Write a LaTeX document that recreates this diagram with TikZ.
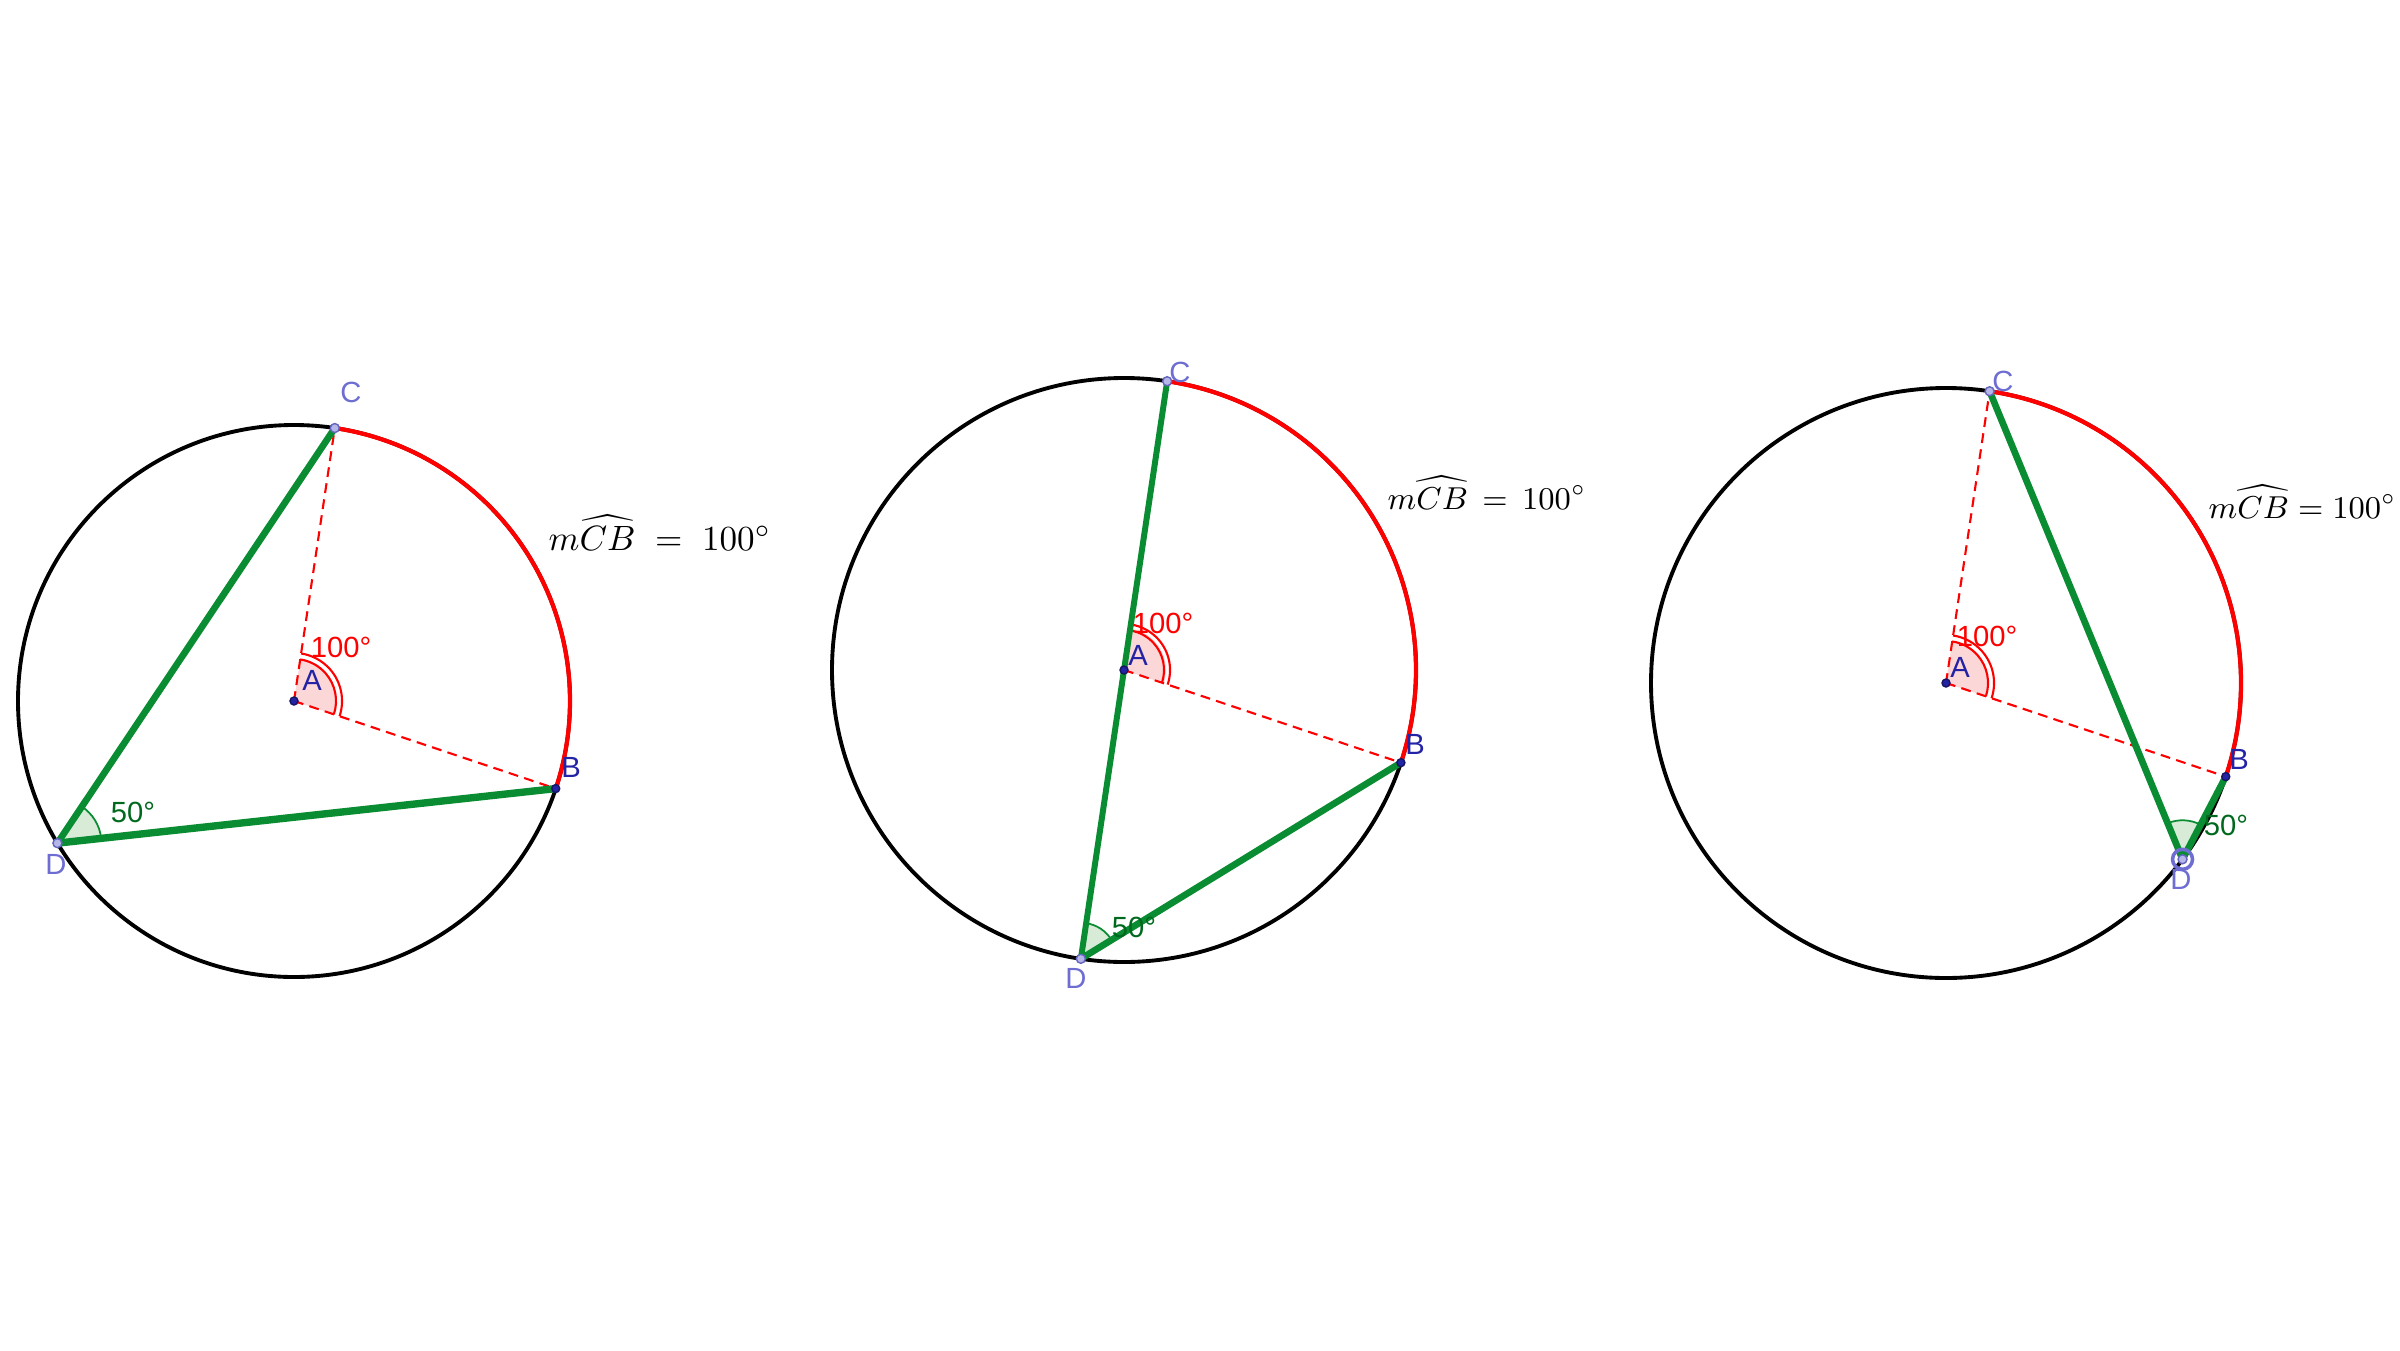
\documentclass[tikz,border=0pt]{standalone}
\usepackage{fontspec}
\setsansfont{Liberation Sans}
\usetikzlibrary{calc,angles}
\definecolor{ggreen}{RGB}{10,140,50}
\definecolor{gtext}{RGB}{0,105,30}
\definecolor{gred}{RGB}{255,0,0}
\definecolor{ptlight}{RGB}{110,110,210}
\definecolor{ptdark}{RGB}{35,35,165}
\definecolor{ggreenfill}{RGB}{215,235,215}
\definecolor{gpink}{RGB}{252,215,215}
\begin{document}
\begin{tikzpicture}[x=0.01cm,y=0.01cm,
  circ/.style={black, line width=1.1pt},
  redarc/.style={gred, line width=1.2pt},
  radline/.style={gred, line width=0.6pt, dash pattern=on 2.8pt off 1.8pt},
  chord/.style={ggreen, line width=1.9pt},
  angfill/.style={fill=gpink},
  angred/.style={draw=gred, line width=0.6pt},
  anggreen/.style={draw=ggreen, fill=ggreenfill, line width=0.5pt},
  lbl/.style={font=\sffamily\fontsize{8.3}{10}\selectfont, inner sep=0pt},
  lblL/.style={lbl, text=ptlight},
  lblD/.style={lbl, text=ptdark},
  redlbl/.style={lbl, text=gred},
  greenlbl/.style={lbl, text=gtext},
  formulaA/.style={font=\fontsize{10}{12}\selectfont, inner sep=0pt, anchor=west},
  formulaB/.style={font=\fontsize{9}{11}\selectfont, inner sep=0pt, anchor=west},
]
\useasboundingbox[fill=white] (0,0) rectangle (2400,1350);

% ---------------- Figure 1 ----------------
\coordinate (A1) at (294,649);
\coordinate (C1) at ($(A1)+(81.5:276)$);
\coordinate (B1) at ($(A1)+(-18.5:276)$);
\coordinate (D1) at ($(A1)+(-149:276)$);
\pic[angfill, angle radius=0.42cm] {angle=B1--A1--C1};
\draw[circ] (A1) circle[radius=276];
\draw[redarc] (C1) arc[start angle=81.5, end angle=-18.5, radius=276];
\draw[radline] (A1) -- (C1);
\draw[radline] (A1) -- (B1);
\pic[angred, angle radius=0.42cm] {angle=B1--A1--C1};
\pic[angred, angle radius=0.48cm] {angle=B1--A1--C1};
\pic[anggreen, angle radius=0.44cm] {angle=B1--D1--C1};
\draw[chord] (D1) -- (C1);
\draw[chord, line width=2.1pt] (D1) -- (B1);
\filldraw[fill=ptdark, draw=ptdark!60!black, line width=0.4pt] (A1) circle[radius=4];
\filldraw[fill=ptdark, draw=ptdark!60!black, line width=0.4pt] (B1) circle[radius=4];
\filldraw[fill=ptlight!50, draw=ptdark!70, line width=0.4pt] (C1) circle[radius=4.5];
\filldraw[fill=ptlight!50, draw=ptdark!70, line width=0.4pt] (D1) circle[radius=4.5];
\node[lblL] (lC1) at (351,958) {C};
\node[lblD] (lB1) at (571,583) {B};
\node[lblL] (lD1) at (56,486) {D};
\node[lblD] (lA1) at (312,670) {A};
\node[redlbl] (r1) at (341,703) {100°};
\node[greenlbl] (g1) at (133,538) {50°};
\node[formulaA] (m1) at (548,817) {$m\widehat{CB}\;=\;100^{\circ}$};

% ---------------- Figure 2 ----------------
\coordinate (A2) at (1124,680);
\coordinate (C2) at ($(A2)+(81.5:292)$);
\coordinate (B2) at ($(A2)+(-18.5:292)$);
\coordinate (D2) at ($(A2)+(261.5:292)$);
\pic[angfill, angle radius=0.42cm] {angle=B2--A2--C2};
\draw[circ] (A2) circle[radius=292];
\draw[redarc] (C2) arc[start angle=81.5, end angle=-18.5, radius=292];
\draw[radline] (A2) -- (B2);
\pic[angred, angle radius=0.40cm] {angle=B2--A2--C2};
\pic[angred, angle radius=0.46cm] {angle=B2--A2--C2};
\pic[anggreen, angle radius=0.36cm] {angle=B2--D2--C2};
\draw[chord, line width=1.7pt] (D2) -- (C2);
\draw[chord] (D2) -- (B2);
\filldraw[fill=ptdark, draw=ptdark!60!black, line width=0.4pt] (A2) circle[radius=4];
\filldraw[fill=ptdark, draw=ptdark!60!black, line width=0.4pt] (B2) circle[radius=4];
\filldraw[fill=ptlight!50, draw=ptdark!70, line width=0.4pt] (C2) circle[radius=4.5];
\filldraw[fill=ptlight!50, draw=ptdark!70, line width=0.4pt] (D2) circle[radius=4.5];
\node[lblL] (lC2) at (1180,978) {C};
\node[lblD] (lB2) at (1415,606) {B};
\node[lblL] (lD2) at (1076,372) {D};
\node[lblD] (lA2) at (1138,695) {A};
\node[redlbl] (r2) at (1163,727) {100°};
\node[greenlbl] (g2) at (1134,423) {50°};
\node[formulaB] (m2) at (1387,857) {$m\widehat{CB}\,=\,100^{\circ}$};

% ---------------- Figure 3 ----------------
\coordinate (A3) at (1946,667);
\coordinate (C3) at ($(A3)+(81.5:295)$);
\coordinate (B3) at ($(A3)+(-18.5:295)$);
\coordinate (D3) at ($(A3)+(-36.7:295)$);
\pic[angfill, angle radius=0.42cm] {angle=B3--A3--C3};
\draw[circ] (A3) circle[radius=295];
\draw[redarc] (C3) arc[start angle=81.5, end angle=-18.5, radius=295];
\draw[radline] (A3) -- (C3);
\draw[radline] (A3) -- (B3);
\pic[angred, angle radius=0.42cm] {angle=B3--A3--C3};
\pic[angred, angle radius=0.48cm] {angle=B3--A3--C3};
\pic[anggreen, angle radius=0.39cm] {angle=B3--D3--C3};
\draw[chord] (D3) -- (C3);
\draw[chord] (D3) -- (B3);
\filldraw[fill=ptdark, draw=ptdark!60!black, line width=0.4pt] (A3) circle[radius=4];
\filldraw[fill=ptdark, draw=ptdark!60!black, line width=0.4pt] (B3) circle[radius=4];
\filldraw[fill=ptlight!50, draw=ptdark!70, line width=0.4pt] (C3) circle[radius=4.5];
\filldraw[fill=ptlight!50, draw=ptdark!70, line width=0.4pt] (D3) circle[radius=4.5];
\draw[ptlight, line width=1pt] (D3) circle[radius=10];
\node[lblL] (lC3) at (2003,969) {C};
\node[lblD] (lB3) at (2239,591) {B};
\node[lblL] (lD3) at (2181,471) {D};
\node[lblD] (lA3) at (1960,683) {A};
\node[redlbl] (r3) at (1987,714) {100°};
\node[greenlbl] (g3) at (2226,525) {50°};
\node[formulaB] (m3) at (2208,848) {$m\widehat{CB}=100^{\circ}$};
\end{tikzpicture}
\end{document}
